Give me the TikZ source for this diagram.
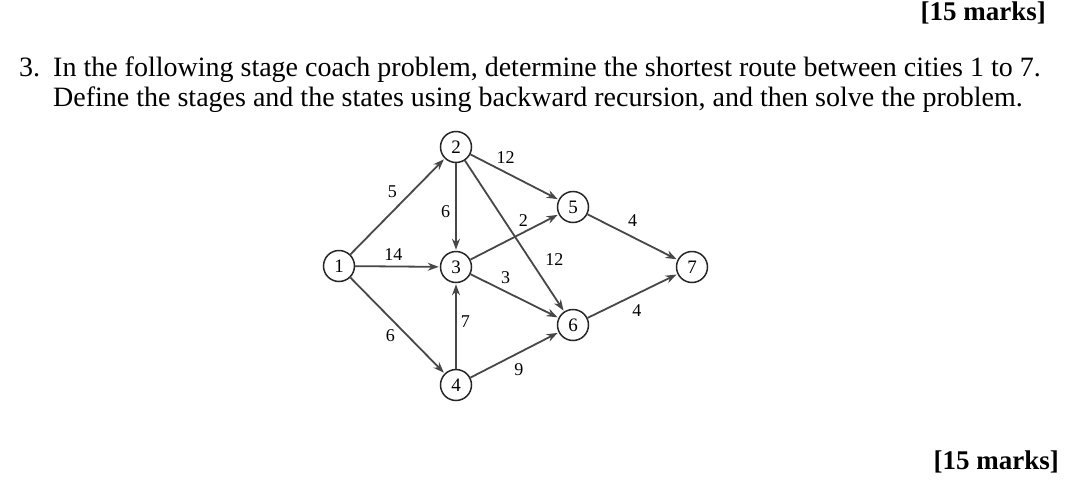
\documentclass[tikz,border=0pt]{standalone}
\usepackage{fontspec}
\setmainfont{Liberation Serif}
\usetikzlibrary{arrows.meta,positioning}

\tikzset{
  city/.style={circle,draw=black!85,line width=1.5pt,minimum size=31pt,inner sep=0pt,font=\fontsize{19}{19}\selectfont},
  road/.style={draw=black!72,line width=1.8pt,-{Stealth[length=11pt,width=8pt]}},
  cost/.style={font=\fontsize{18}{18}\selectfont,inner sep=1pt},
  line/.style={anchor=base west,inner sep=0pt,font=\fontsize{28}{28}\selectfont},
  marks/.style={anchor=base east,inner sep=0pt,font=\fontsize{27}{27}\selectfont\bfseries}
}

\begin{document}
\begin{tikzpicture}[x=1pt,y=-1pt,shorten >=1pt]
  \useasboundingbox (0,0) rectangle (1080,501);
  \fill[white] (0,0) rectangle (1080,501);

  % text of the question
  \node[marks] (mtop) at (1046,20) {[15 marks]};
  \node[line]  (num)  at (19,76)   {3.};
  \node[line]  (q1)   at (53,76)   {In the following stage coach problem, determine the shortest route between cities 1 to 7.};
  \node[line]  (q2)   at (53,106)  {Define the stages and the states using backward recursion, and then solve the problem.};
  \node[marks] (mbot) at (1059,469) {[15 marks]};

  % cities
  \node[city] (1) at (339,266) {1};
  \node[city] (2) at (456,147) {2};
  \node[city] (3) at (456,267) {3};
  \node[city] (4) at (456,385) {4};
  \node[city] (5) at (573,207) {5};
  \node[city] (6) at (573,325) {6};
  \node[city] (7) at (692,267) {7};

  % roads
  \path[road] (1) edge node[cost,above left,pos=0.45,xshift=6pt,yshift=12pt] {5} (2)
              (1) edge node[cost,above,pos=0.45,yshift=4pt] {14} (3)
              (1) edge node[cost,below left,pos=0.45,xshift=4pt,yshift=-7pt] {6} (4)
              (2) edge node[cost,left,pos=0.55,xshift=-4pt] {6} (3)
              (2) edge node[cost,above,pos=0.4,yshift=7pt] {12} (5)
              (2) edge node[cost,right,pos=0.62,xshift=17pt,yshift=-5pt] {12} (6)
              (3) edge node[cost,above,pos=0.6,yshift=4pt] {2} (5)
              (3) edge node[cost,above,pos=0.4,yshift=6pt] {3} (6)
              (4) edge node[cost,right,pos=0.55,xshift=3pt] {7} (3)
              (4) edge node[cost,below,pos=0.55,yshift=-9pt] {9} (6)
              (5) edge node[cost,above,pos=0.5,yshift=9pt] {4} (7)
              (6) edge node[cost,below,pos=0.55,yshift=-9pt] {4} (7);
\end{tikzpicture}
\end{document}
